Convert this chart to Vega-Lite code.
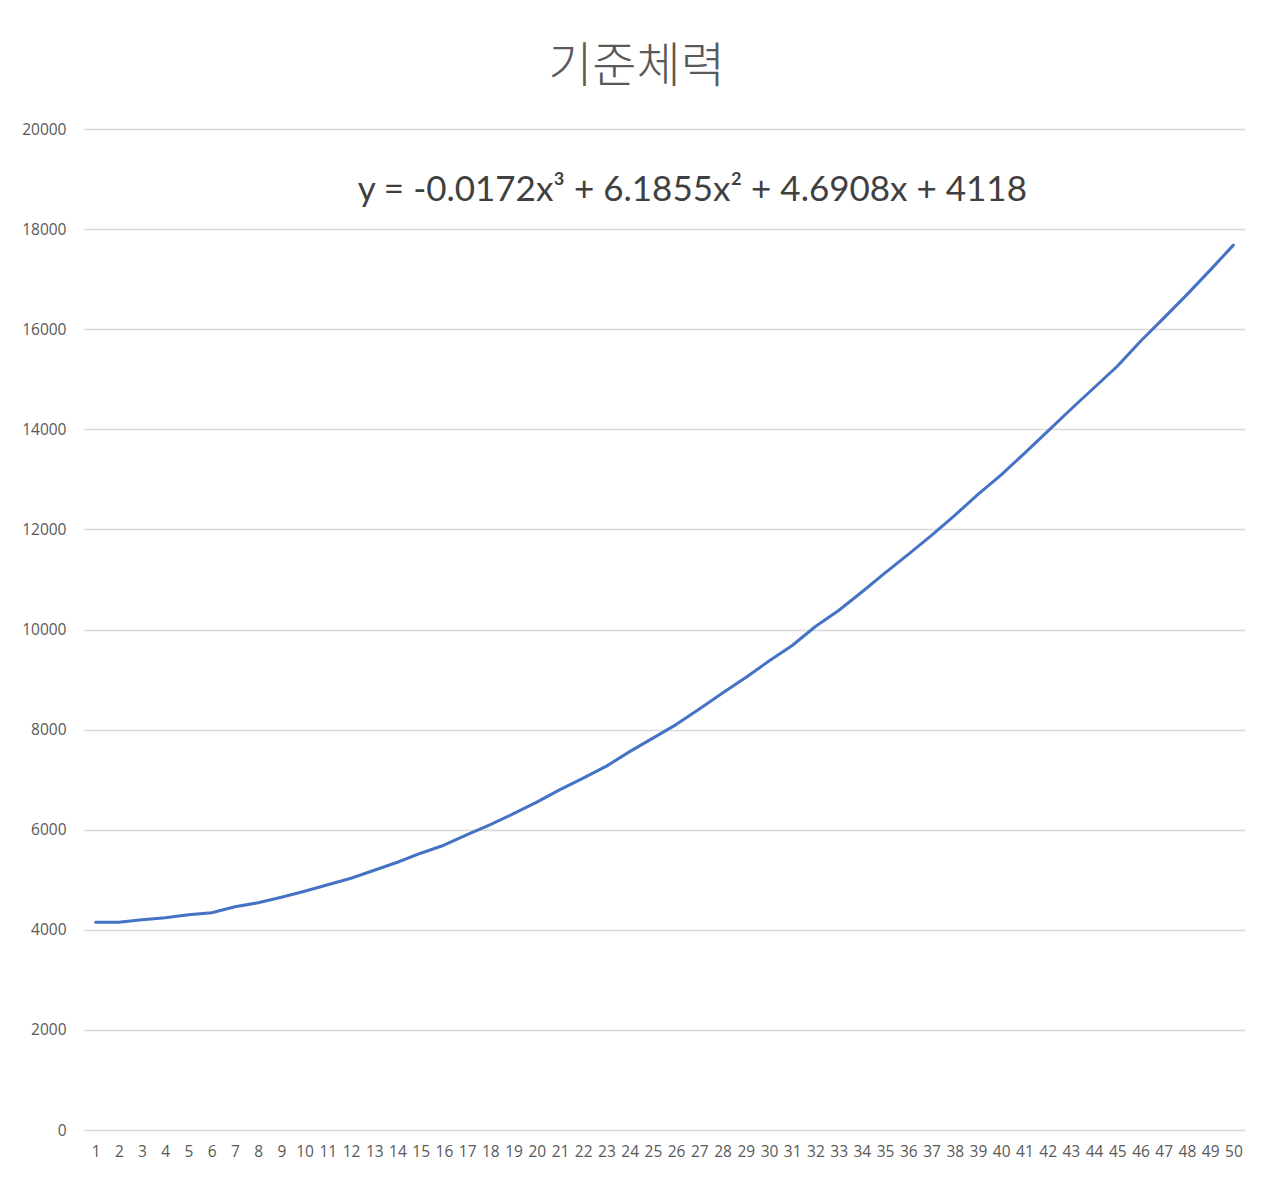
{
  "$schema": "https://vega.github.io/schema/vega-lite/v6.json",
  "autosize": {"type": "none"},
  "width": 1161,
  "height": 1001,
  "padding": {"left": 84, "top": 129, "right": 35, "bottom": 58},
  "background": "white",
  "title": {
    "text": "기준체력",
    "font": "Noto Sans CJK KR",
    "fontSize": 48,
    "fontWeight": 300,
    "color": "#595959",
    "anchor": "middle",
    "dx": -28,
    "offset": 30
  },
  "data": {
    "values": [
      {"x": 1, "y": 4150}, {"x": 2, "y": 4150}, {"x": 3, "y": 4200}, {"x": 4, "y": 4240},
      {"x": 5, "y": 4300}, {"x": 6, "y": 4340}, {"x": 7, "y": 4460}, {"x": 8, "y": 4540},
      {"x": 9, "y": 4650}, {"x": 10, "y": 4770}, {"x": 11, "y": 4900}, {"x": 12, "y": 5030},
      {"x": 13, "y": 5190}, {"x": 14, "y": 5350}, {"x": 15, "y": 5530}, {"x": 16, "y": 5690},
      {"x": 17, "y": 5900}, {"x": 18, "y": 6100}, {"x": 19, "y": 6320}, {"x": 20, "y": 6550},
      {"x": 21, "y": 6800}, {"x": 22, "y": 7030}, {"x": 23, "y": 7270}, {"x": 24, "y": 7560},
      {"x": 25, "y": 7830}, {"x": 26, "y": 8100}, {"x": 27, "y": 8410}, {"x": 28, "y": 8730},
      {"x": 29, "y": 9040}, {"x": 30, "y": 9370}, {"x": 31, "y": 9680}, {"x": 32, "y": 10060},
      {"x": 33, "y": 10380}, {"x": 34, "y": 10750}, {"x": 35, "y": 11130}, {"x": 36, "y": 11500},
      {"x": 37, "y": 11880}, {"x": 38, "y": 12280}, {"x": 39, "y": 12700}, {"x": 40, "y": 13090},
      {"x": 41, "y": 13520}, {"x": 42, "y": 13960}, {"x": 43, "y": 14400}, {"x": 44, "y": 14830},
      {"x": 45, "y": 15260}, {"x": 46, "y": 15760}, {"x": 47, "y": 16220}, {"x": 48, "y": 16690},
      {"x": 49, "y": 17180}, {"x": 50, "y": 17680}
    ]
  },
  "encoding": {
    "x": {
      "field": "x",
      "type": "ordinal",
      "sort": "ascending",
      "scale": {"type": "point", "padding": 0.5},
      "axis": {
        "title": null,
        "labelAngle": 0,
        "ticks": false,
        "domain": false,
        "grid": false,
        "labelFont": "Open Sans",
        "labelFontSize": 15.5,
        "labelColor": "#595959",
        "labelPadding": 14
      }
    },
    "y": {
      "field": "y",
      "type": "quantitative",
      "scale": {"domain": [0, 20000], "nice": false},
      "axis": {
        "title": null,
        "values": [0, 2000, 4000, 6000, 8000, 10000, 12000, 14000, 16000, 18000, 20000],
        "format": "d",
        "ticks": false,
        "domain": false,
        "grid": true,
        "gridColor": "#d9d9d9",
        "gridWidth": 1.3,
        "labelFont": "Open Sans",
        "labelFontSize": 15.5,
        "labelColor": "#595959",
        "labelPadding": 18
      }
    }
  },
  "layer": [
    {
      "mark": {"type": "line", "color": "#4472C4", "strokeWidth": 3, "strokeCap": "round", "strokeJoin": "round"}
    },
    {
      "data": {"values": [{"x": 27, "y": 18780, "label": "y = -0.0172x³ + 6.1855x² + 4.6908x + 4118"}]},
      "mark": {"type": "text", "font": "Lato", "fontSize": 35, "color": "#404040", "align": "center", "baseline": "middle", "dx": -7},
      "encoding": {"text": {"field": "label"}}
    }
  ],
  "config": {
    "view": {"stroke": null}
  }
}
